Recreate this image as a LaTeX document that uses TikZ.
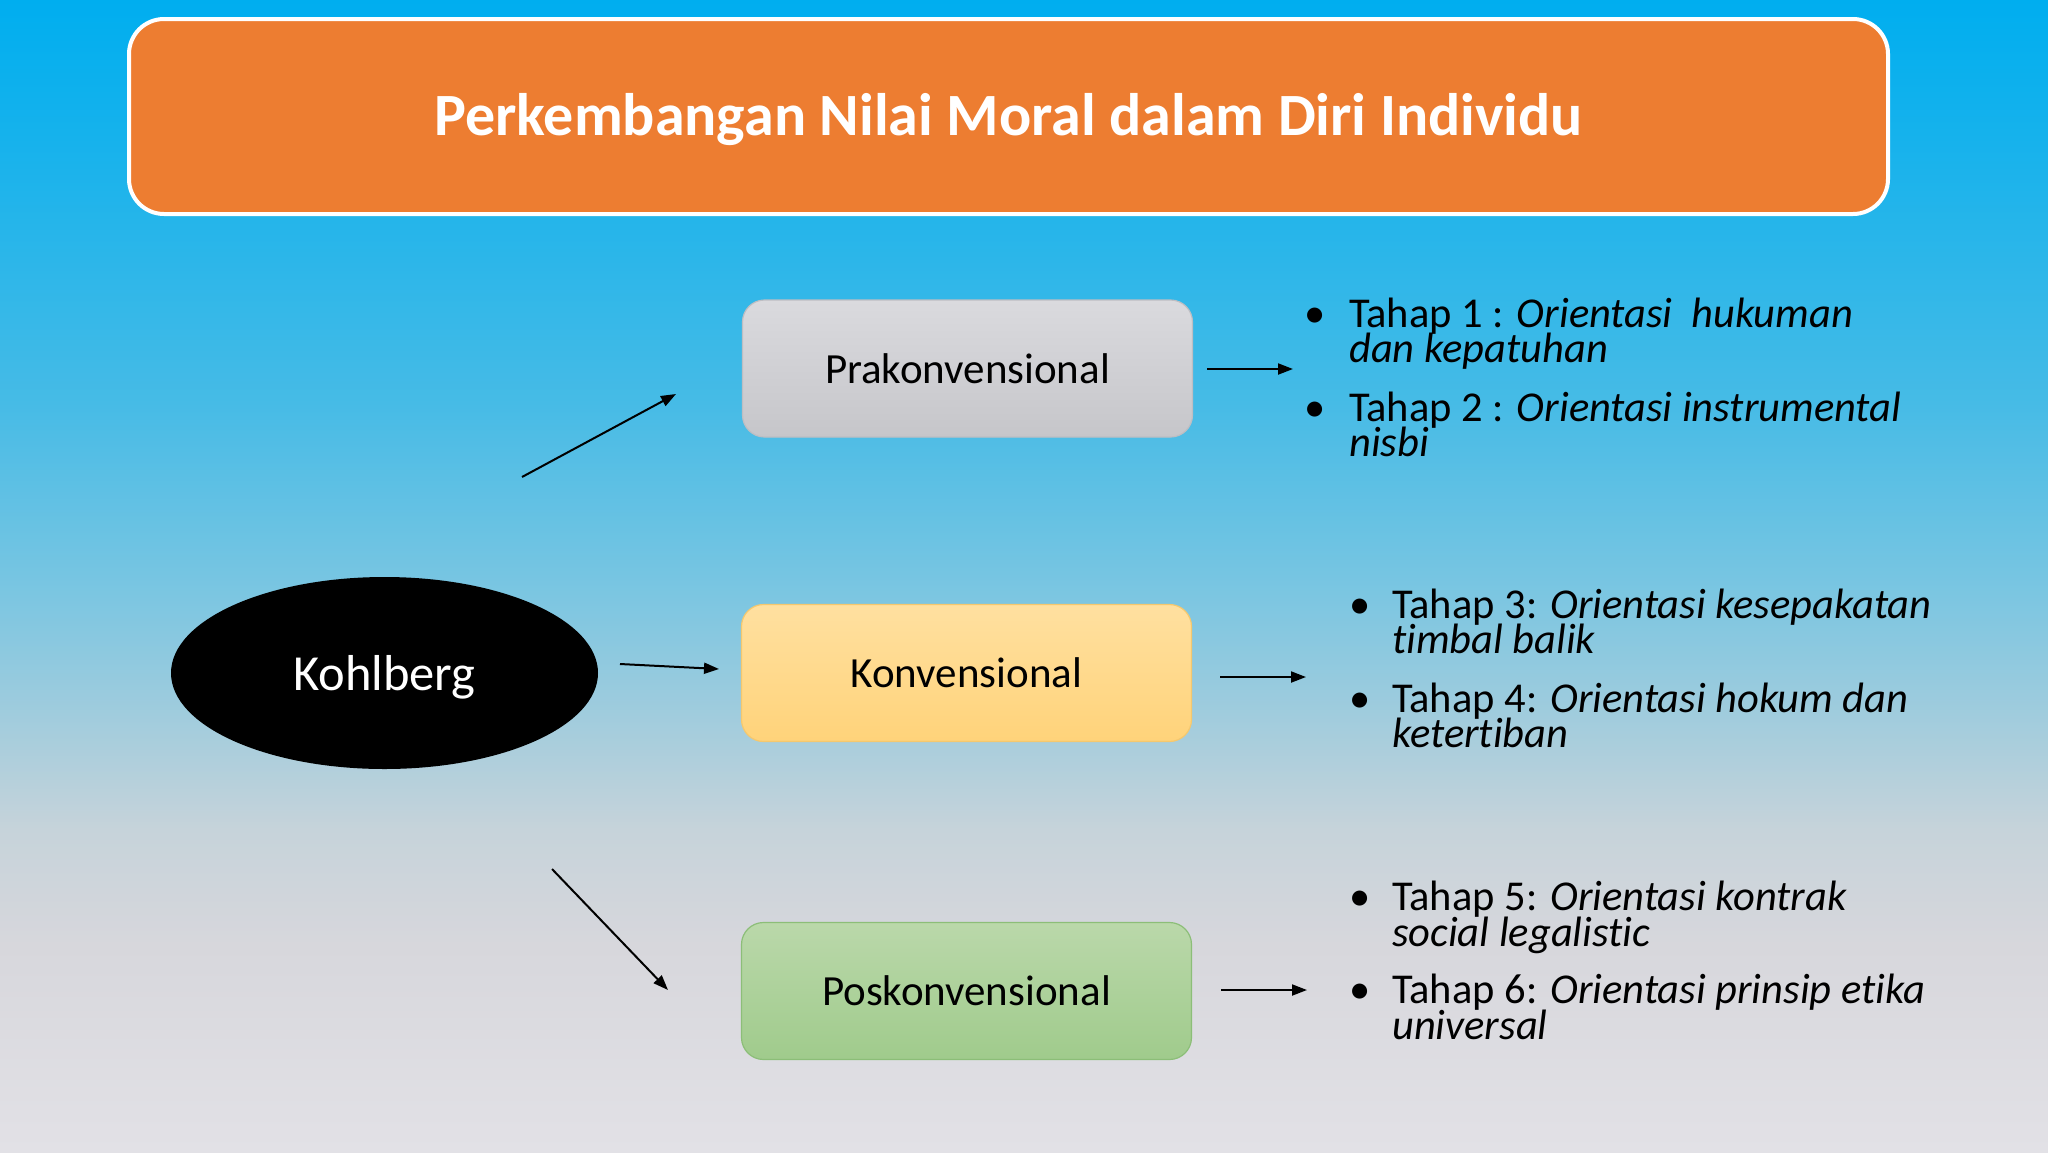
\documentclass[tikz,border=0pt]{standalone}
\usepackage{fontspec}
\setmainfont{Carlito}[Ligatures=NoCommon]
\usetikzlibrary{arrows.meta,shapes.geometric}
\definecolor{g0}{RGB}{0,174,239}
\definecolor{g1}{RGB}{22,178,236}
\definecolor{g2}{RGB}{70,187,230}
\definecolor{g3}{RGB}{118,197,226}
\definecolor{g4}{RGB}{160,204,221}
\definecolor{g5}{RGB}{198,211,218}
\definecolor{g6}{RGB}{215,215,220}
\definecolor{g7}{RGB}{226,225,230}
\definecolor{orng}{RGB}{237,125,49}
\definecolor{grtop}{RGB}{218,218,222}
\definecolor{grbot}{RGB}{198,198,202}
\definecolor{grline}{RGB}{190,190,195}
\definecolor{yetop}{RGB}{255,224,160}
\definecolor{yebot}{RGB}{255,211,122}
\definecolor{yeline}{RGB}{245,200,110}
\definecolor{gntop}{RGB}{186,216,170}
\definecolor{gnbot}{RGB}{160,203,140}
\definecolor{gnline}{RGB}{140,190,120}
\pgfdeclareverticalshading{bgshade}{100bp}{color(0bp)=(g7); color(25bp)=(g7); color(34bp)=(g6); color(39bp)=(g5); color(44bp)=(g4); color(50bp)=(g3); color(57.5bp)=(g2); color(69bp)=(g1); color(75bp)=(g0); color(100bp)=(g0)}
\begin{document}
\begin{tikzpicture}[x=1pt,y=-1pt,
  titlebox/.style={rectangle, rounded corners=35pt, fill=orng, draw=white, line width=4pt,
    minimum width=1759pt, minimum height=195pt, inner sep=0pt, text=white,
    font=\bfseries\fontsize{60}{66}\selectfont, text height=37pt, text depth=0pt},
  stagebox/.style={rectangle, rounded corners=22pt, line width=1.2pt,
    minimum width=450pt, minimum height=137pt, inner sep=0pt,
    font=\fontsize{43}{50}\selectfont, text height=29pt, text depth=0pt},
  rootnode/.style={ellipse, fill=black, minimum width=427pt, minimum height=192pt, inner sep=0pt,
    text=white, font=\fontsize{50.5}{56}\selectfont, text height=34pt, text depth=0pt},
  conn/.style={line width=2pt, -{Triangle[length=15pt,width=11pt]}},
  itemline/.style={anchor=base west, inner sep=0pt, font=\fontsize{42.5}{35}\selectfont},
  dotmark/.style={anchor=base, inner sep=0pt, font=\fontsize{42.5}{35}\selectfont}
]
\shade[shading=bgshade] (0,0) rectangle (2048,1152);
\useasboundingbox (0,0) rectangle (2048,1152);

\node[titlebox] (title) at (1008.5,116.5) {Perkembangan Nilai Moral dalam Diri Individu};

\node[rootnode] (kohl) at (384.5,673) {Kohlberg};

\node[stagebox, top color=grtop, bottom color=grbot, draw=grline] (pra) at (967.5,368.5) {Prakonvensional};
\node[stagebox, top color=yetop, bottom color=yebot, draw=yeline] (kon) at (966.5,673) {Konvensional};
\node[stagebox, top color=gntop, bottom color=gnbot, draw=gnline] (pos) at (966.5,991) {Poskonvensional};

\coordinate (a1s) at (522,477); \coordinate (a1e) at (676,394);
\coordinate (a2s) at (620,664); \coordinate (a2e) at (719,669);
\coordinate (a3s) at (552,869); \coordinate (a3e) at (668,990);
\coordinate (r1s) at (1207,369); \coordinate (r1e) at (1293,369);
\coordinate (r2s) at (1220,677); \coordinate (r2e) at (1306,677);
\coordinate (r3s) at (1221,990); \coordinate (r3e) at (1307,990);
\draw[conn] (a1s) -- (a1e);
\draw[conn] (a2s) -- (a2e);
\draw[conn] (a3s) -- (a3e);
\draw[conn] (r1s) -- (r1e);
\draw[conn] (r2s) -- (r2e);
\draw[conn] (r3s) -- (r3e);

% group 1
\node[dotmark] (b1) at (1315,327) {•};
\node[itemline] (t1a) at (1349,327) {Tahap 1 : \textit{Orientasi\ \ hukuman}};
\node[itemline] (t1b) at (1349,362) {\textit{dan kepatuhan}};
\node[dotmark] (b2) at (1315,421) {•};
\node[itemline] (t2a) at (1349,421) {Tahap 2 : \textit{Orientasi instrumental}};
\node[itemline] (t2b) at (1349,456) {\textit{nisbi}};
% group 2
\node[dotmark] (b3) at (1360,618) {•};
\node[itemline] (t3a) at (1392,618) {Tahap 3: \textit{Orientasi kesepakatan}};
\node[itemline] (t3b) at (1392,653) {\textit{timbal balik}};
\node[dotmark] (b4) at (1360,712) {•};
\node[itemline] (t4a) at (1392,712) {Tahap 4: \textit{Orientasi hokum dan}};
\node[itemline] (t4b) at (1392,747) {\textit{ketertiban}};
% group 3
\node[dotmark] (b5) at (1360,910) {•};
\node[itemline] (t5a) at (1392,910) {Tahap 5: \textit{Orientasi kontrak}};
\node[itemline] (t5b) at (1392,946) {\textit{social legalistic}};
\node[dotmark] (b6) at (1360,1003) {•};
\node[itemline] (t6a) at (1392,1003) {Tahap 6: \textit{Orientasi prinsip etika}};
\node[itemline] (t6b) at (1392,1039) {\textit{universal}};
\end{tikzpicture}
\end{document}
